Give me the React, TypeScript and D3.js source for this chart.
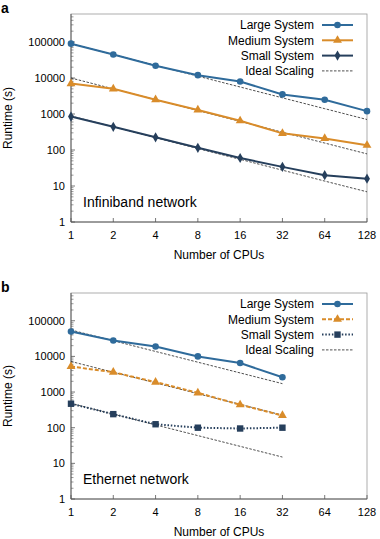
import React from 'react';
import * as d3 from 'd3';

const cpus = [1, 2, 4, 8, 16, 32, 64, 128];
const yTicks = [1, 10, 100, 1000, 10000, 100000];

// panel a: Infiniband
const infLarge = [90000, 45000, 22000, 12000, 8000, 3500, 2500, 1200];
const infMedium = [7000, 5000, 2500, 1300, 650, 290, 210, 135];
const infSmall = [850, 440, 225, 115, 60, 34, 20, 16];
const infIdealLarge = [90000, 45000, 22500, 11250, 5625, 2812, 1406, 703];
const infIdealMedium = [10000, 5000, 2500, 1250, 625, 312, 156, 78];
const infIdealSmall = [880, 440, 220, 110, 55, 27.5, 13.7, 6.9];

// panel b: Ethernet (only up to 32 CPUs)
const ethCpus = [1, 2, 4, 8, 16, 32];
const ethLarge = [50000, 28000, 19000, 10000, 6500, 2600];
const ethMedium = [5200, 3600, 1900, 950, 440, 220];
const ethSmall = [470, 240, 125, 100, 95, 100];
const ethIdealLarge = [55000, 27500, 13750, 6875, 3437, 1719];
const ethIdealMedium = [7200, 3600, 1800, 900, 450, 225];
const ethIdealSmall = [480, 240, 120, 60, 30, 15];

const legendNames = ['Large System', 'Medium System', 'Small System', 'Ideal Scaling'];

const BLUE = '#2f6b9b';
const ORANGE = '#d98c2a';
const NAVY = '#263f5c';
const FONT = 'Liberation Sans, Arial, Helvetica, sans-serif';

type Series = { x: number[]; y: number[]; color: string; dash?: string; marker: string; width?: number };

function Marker({ type, x, y, color }: { type: string; x: number; y: number; color: string }) {
  if (type === 'circle') return <circle cx={x} cy={y} r={3.3} fill={color} />;
  if (type === 'triangle') {
    const s = d3.symbol(d3.symbolTriangle, 34)();
    return <path d={s || ''} transform={`translate(${x},${y})`} fill={color} />;
  }
  if (type === 'diamond') {
    const s = d3.symbol(d3.symbolDiamond, 30)();
    return <path d={s || ''} transform={`translate(${x},${y})`} fill={color} />;
  }
  if (type === 'square') return <rect x={x - 3.2} y={y - 3.2} width={6.4} height={6.4} fill={color} />;
  return null;
}

function Panel({ top, bottom, letter, note, series, ideals }: {
  top: number; bottom: number; letter: string; note: string; series: Series[]; ideals: { x: number[]; y: number[] }[];
}) {
  const left = 71, right = 367;
  const x = d3.scaleLog().base(2).domain([1, 128]).range([left, right]);
  const y = d3.scaleLog().domain([1, 600000]).range([bottom, top]);
  const line = d3.line<[number, number]>().x(d => x(d[0])).y(d => y(d[1]));
  const minor: number[] = [];
  for (let e = 0; e < 6; e++) for (let m = 2; m <= 9; m++) { const v = m * 10 ** e; if (v < 600000) minor.push(v); }
  const legY = top + 11;
  return (
    <g fontFamily={FONT}>
      <text x={1} y={top - 1} fontSize={14} fontWeight="bold">{letter}</text>
      <rect x={left} y={top} width={right - left} height={bottom - top} fill="none" stroke="#999" strokeWidth={0.8} />
      <line x1={left} x2={left} y1={top} y2={bottom} stroke="#555" strokeWidth={0.9} />
      <line x1={left} x2={right} y1={bottom} y2={bottom} stroke="#555" strokeWidth={0.9} />
      {minor.map(v => <line key={v} x1={left} x2={left + 2.5} y1={y(v)} y2={y(v)} stroke="#555" strokeWidth={0.6} />)}
      {yTicks.map(v => (
        <g key={v}>
          <line x1={left} x2={left + 4} y1={y(v)} y2={y(v)} stroke="#555" strokeWidth={0.8} />
          <text x={left - 6} y={y(v)} dy="0.35em" textAnchor="end" fontSize={11}>{v}</text>
        </g>
      ))}
      {cpus.map(c => (
        <g key={c}>
          <line x1={x(c)} x2={x(c)} y1={bottom} y2={bottom - 4} stroke="#555" strokeWidth={0.8} />
          <text x={x(c)} y={bottom + 17} textAnchor="middle" fontSize={11}>{c}</text>
        </g>
      ))}
      <text x={(left + right) / 2} y={bottom + 37} textAnchor="middle" fontSize={12}>Number of CPUs</text>
      <text transform={`translate(12,${(top + bottom) / 2}) rotate(-90)`} textAnchor="middle" fontSize={12}>Runtime (s)</text>
      <text x={83} y={bottom - 15} fontSize={14}>{note}</text>
      {ideals.map((s, i) => (
        <path key={i} d={line(s.x.map((c, j) => [c, s.y[j]] as [number, number])) || ''} fill="none" stroke="#222" strokeWidth={0.8} strokeDasharray="2.5,1.5" />
      ))}
      {series.map((s, i) => (
        <g key={i}>
          <path d={line(s.x.map((c, j) => [c, s.y[j]] as [number, number])) || ''} fill="none" stroke={s.color} strokeWidth={s.width || 2} strokeDasharray={s.dash} />
          {s.x.map((c, j) => <Marker key={j} type={s.marker} x={x(c)} y={y(s.y[j])} color={s.color} />)}
        </g>
      ))}
      {legendNames.map((name, i) => {
        const ly = legY + i * 15.3;
        const s = series[i];
        return (
          <g key={name}>
            <text x={314} y={ly} dy="0.35em" textAnchor="end" fontSize={12}>{name}</text>
            {s ? (
              <>
                <line x1={322} x2={353} y1={ly} y2={ly} stroke={s.color} strokeWidth={s.width || 2} strokeDasharray={s.dash} />
                <Marker type={s.marker} x={337.5} y={ly} color={s.color} />
              </>
            ) : (
              <line x1={322} x2={353} y1={ly} y2={ly} stroke="#222" strokeWidth={0.8} strokeDasharray="2.5,1.5" />
            )}
          </g>
        );
      })}
    </g>
  );
}

export default function App() {
  return (
    <svg width={380} height={539} style={{ position: 'absolute', left: 0, top: 0, background: '#fff' }}>
      <Panel
        top={14} bottom={222} letter="a" note="Infiniband network"
        series={[
          { x: cpus, y: infLarge, color: BLUE, marker: 'circle' },
          { x: cpus, y: infMedium, color: ORANGE, marker: 'triangle' },
          { x: cpus, y: infSmall, color: NAVY, marker: 'diamond' },
        ]}
        ideals={[
          { x: cpus, y: infIdealLarge },
          { x: cpus, y: infIdealMedium },
          { x: cpus, y: infIdealSmall },
        ]}
      />
      <Panel
        top={293} bottom={499} letter="b" note="Ethernet network"
        series={[
          { x: ethCpus, y: ethLarge, color: BLUE, marker: 'circle' },
          { x: ethCpus, y: ethMedium, color: ORANGE, marker: 'triangle', dash: '4,2' },
          { x: ethCpus, y: ethSmall, color: NAVY, marker: 'square', dash: '1.5,1.8' },
        ]}
        ideals={[
          { x: ethCpus, y: ethIdealLarge },
          { x: ethCpus, y: ethIdealMedium },
          { x: ethCpus, y: ethIdealSmall },
        ]}
      />
    </svg>
  );
}
